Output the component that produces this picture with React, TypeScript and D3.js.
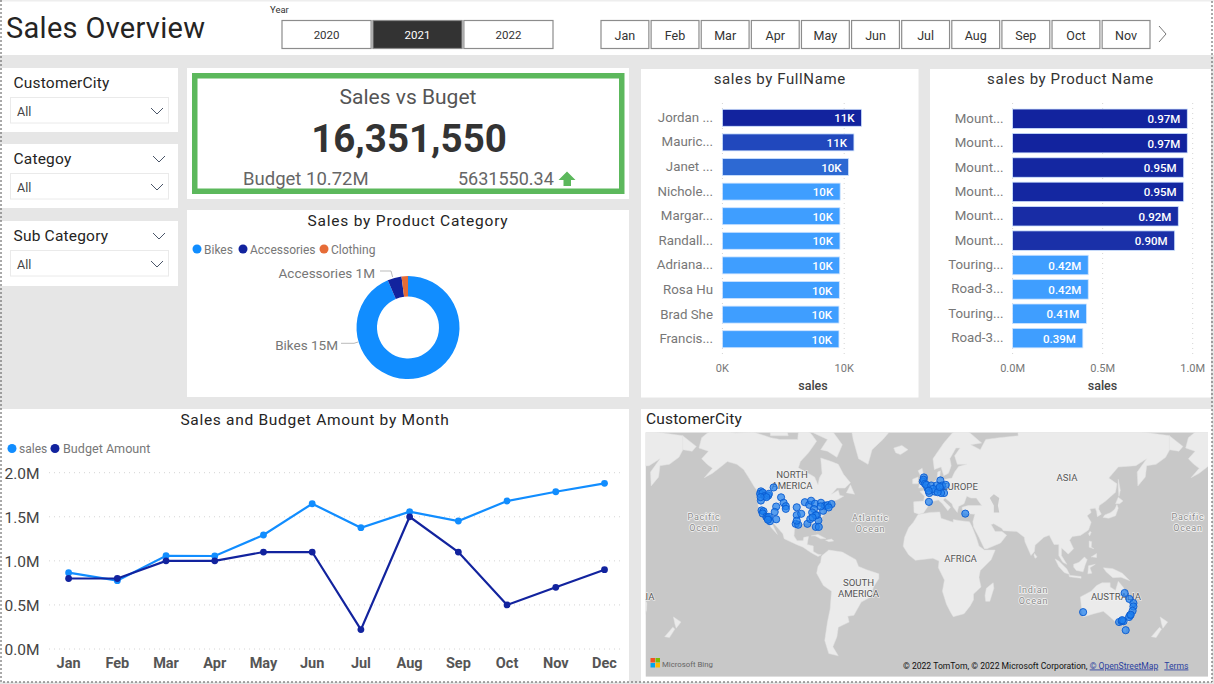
import React from "react";
import * as d3 from "d3";

const FONT = "Roboto, 'Noto Sans', sans-serif";

const years = ["2020", "2021", "2022"];
const sliceMonths = ["Jan", "Feb", "Mar", "Apr", "May", "Jun", "Jul", "Aug", "Sep", "Oct", "Nov"];
const months = [...sliceMonths, "Dec"];

const slicers = ["CustomerCity", "Categoy", "Sub Category"];

const categories = ["Bikes", "Accessories", "Clothing"];
const categorySales = [15.3, 0.72, 0.33];

const fullNames = ["Jordan ...", "Mauric...", "Janet ...", "Nichole...", "Margar...", "Randall...", "Adriana...", "Rosa Hu", "Brad She", "Francis..."];
const fullNameSales = [11.43, 10.8, 10.36, 9.67, 9.65, 9.65, 9.63, 9.6, 9.57, 9.57];
const fullNameLabels = ["11K", "11K", "10K", "10K", "10K", "10K", "10K", "10K", "10K", "10K"];

const productNames = ["Mount...", "Mount...", "Mount...", "Mount...", "Mount...", "Mount...", "Touring...", "Road-3...", "Touring...", "Road-3..."];
const productSales = [0.97, 0.97, 0.95, 0.95, 0.92, 0.9, 0.42, 0.42, 0.41, 0.39];

const monthSales = [0.866, 0.775, 1.058, 1.055, 1.293, 1.648, 1.376, 1.558, 1.452, 1.679, 1.784, 1.879];
const monthBudget = [0.8, 0.8, 1.0, 1.0, 1.1, 1.1, 0.22, 1.5, 1.1, 0.5, 0.7, 0.9];

// lon/lat outlines, rough, only good enough for a small world map
const land: [number, number][][] = [
  [[-166,68.5],[-157,71],[-141,69.7],[-128,70],[-115,68.5],[-108,68],[-95,68],[-94,72],[-85,69.5],[-81,67.5],[-87,64],[-93,61],[-94.5,58.7],[-88,56.7],[-82.5,55],[-80,51.5],[-79,54.5],[-77,56.5],[-78,62.3],[-70,61],[-65,60],[-61,56],[-56,52.5],[-60,50],[-66,50],[-70,47],[-65,49],[-64,46.5],[-61,46],[-66,44],[-70,43.5],[-70,41.7],[-74,40.5],[-76,38],[-76,35],[-81,31.5],[-80,26],[-81,25],[-82.7,28],[-84,30],[-89,30.2],[-94,29.5],[-97.3,27],[-97.7,22],[-95.5,18.7],[-91,18.7],[-90.5,21],[-87,21.5],[-88,16],[-83.5,15],[-83.5,11],[-80,9],[-77.5,8.5],[-80,7.3],[-85,10],[-91,14],[-96,16],[-105,20],[-106,23.5],[-112,29.5],[-114.7,31.5],[-110,23],[-115,28],[-117.3,33],[-121,34.5],[-124,40],[-124.5,43],[-124,48],[-127,50.5],[-131,54.5],[-135,58],[-140,60],[-147,61],[-152,59],[-158,56.5],[-164,54.7],[-158,58.5],[-162,60],[-166,62],[-161,64.5],[-168,65.5]],
  [[-73,78.5],[-60,82],[-30,83.5],[-18,80],[-22,72],[-32,68],[-40,65],[-43,60],[-50,62],[-54,68],[-58,75],[-68,76]],
  [[-80,73.5],[-70,70.5],[-62,66.5],[-66,62.5],[-73,64.5],[-78,65],[-73,68],[-85,70]],
  [[-117,73],[-105,73],[-102,69],[-115,69]],
  [[-95,76],[-80,76],[-78,83],[-60,83],[-90,82]],
  [[-125,72],[-117,75],[-115,72.5],[-122,71]],
  [[-59,47.7],[-53,47],[-56,51.5]],
  [[-85,22],[-80,23],[-74.2,20.2],[-78,20],[-82,22]],
  [[-74.4,19],[-70,19.8],[-68.4,18.5],[-72,18]],
  [[-77,8],[-72,12],[-62,10.5],[-52,5],[-50,0],[-44,-2.5],[-35,-5.5],[-35,-9],[-39,-15],[-41,-22],[-48,-25.5],[-53.5,-34],[-58,-34.5],[-57,-38],[-65,-41],[-66,-46],[-69,-51],[-65,-55],[-72,-54],[-75,-48],[-73,-38],[-71,-30],[-70,-18],[-76,-14],[-81,-5],[-80,0],[-78,3],[-77.5,7]],
  [[-6,35.8],[3,37],[10,37.3],[11,33.5],[20,31],[20,32.7],[25,32],[32,31.3],[34,28],[37,21],[39,15],[43,12],[51,12],[48,5],[40,-3],[39,-8],[40.5,-15],[35,-20],[35,-24],[32.5,-28],[28,-33],[20,-34.8],[18,-32],[15,-27],[12,-18],[13.5,-10],[9,-1],[9.5,4],[5,6],[-4,5],[-8,4.5],[-13,8.5],[-17,14.7],[-16,21],[-13,27.5],[-9.5,31]],
  [[-9,37],[-9.3,43],[-2,43.5],[-1.2,46],[-4.7,48.3],[-1,49],[1.5,50.5],[4,52],[8,54],[8.5,57],[10.5,57.5],[10,54.5],[14,54],[19,54.5],[21,57],[24,59.2],[30,60],[23,60],[21,63],[25,65.5],[22,65.5],[17.5,62],[18.5,59.5],[16.5,56.5],[13,55.5],[11,59],[6,58],[5,62],[13,67],[20,70],[28,71],[41,67],[33,66.5],[40,65],[44,68],[54,68.5],[68,69],[67,73],[75,72.5],[81,73.5],[100,77.5],[113,74],[130,71],[140,72.5],[160,70],[180,69],[180,65],[177,62.5],[170,60],[163,59.5],[162,55],[156.5,51],[156,57],[163,62],[155,59.5],[142,59],[135,54.5],[141,52],[140,48],[132,43],[128,41],[127.5,39],[129.5,36],[126.5,34.5],[126,37.5],[125,39.5],[121,39],[122,37],[119,35],[122,31],[120,26],[114,22.3],[108,21.5],[106,19],[109,13],[105,9],[103,11],[100,13.5],[100,8],[104,1.5],[101,3],[98,8],[98,16],[94.5,16],[91,22.5],[87,21],[80.5,15.5],[80,11],[77.5,8],[73,18],[72.5,21],[67,25],[57,25.5],[56,27],[50,30],[48,29.5],[51,25],[56,25],[59.5,22.5],[55,17],[45,13],[43,13],[39,21],[35,28],[34.5,31.5],[36,36],[30,36.3],[27,37],[26.5,40],[31,41],[41,41],[37,45],[33,45],[30,46],[28,42],[24,40.5],[23,37],[20,40],[19,42],[14,45],[12.5,44],[18,40],[16,38],[12,42],[9,44],[3.5,43],[0,39],[-2,36.7],[-5.5,36]],
  [[-180,69],[-170,66],[-173,64.5],[-180,65]],
  [[-5.5,50],[1.5,51.2],[0,53.5],[-2,56],[-3,58.5],[-6,57.5],[-3,54],[-5,52]],
  [[-10,52],[-6,52],[-6,55],[-10,54]],
  [[-24,65.5],[-18,66.3],[-13.5,65],[-19,63.4],[-22.5,64]],
  [[52,71],[56,73.5],[68,77],[60,76],[53,73]],
  [[49.5,-12],[50,-16],[47,-25],[44,-25],[43.5,-21],[44.5,-16]],
  [[80,9.5],[82,7],[80.5,6],[79.7,8]],
  [[130.8,34],[135,33.5],[140,35],[142,39.5],[141,41.5],[139.5,39],[136.5,37],[132,35.5]],
  [[140,42],[142,45.5],[145.5,43.5],[143,42]],
  [[142,54],[143.5,49],[142.5,46],[142,50]],
  [[121,25],[122,24.5],[120.8,22],[120,23.5]],
  [[120.5,18.5],[122.3,18],[122,14],[124,13],[120.5,14]],
  [[122,7],[126,9.5],[126,6.5],[123,7]],
  [[95.3,5.5],[98,4],[104,-2],[106,-6],[102,-4.5],[98,0]],
  [[105.5,-6.5],[114.5,-7.5],[114.5,-8.7],[106,-7.7]],
  [[109,1.5],[113,3],[117,7],[119,5],[117.5,1],[116,-4],[111,-3],[109,-0.5]],
  [[119.5,-5.5],[120,0.5],[125,1.5],[121,-1],[122.5,-5]],
  [[131,-1],[138,-1.7],[145,-5],[150.5,-10.5],[144,-8],[138,-8.3],[133,-4]],
  [[114,-22],[122,-18],[126,-14],[130,-12],[136,-12],[136,-15],[140,-17.5],[142,-11],[145.5,-15],[149,-21],[153.3,-26],[153,-31],[150,-37.5],[146,-39],[140,-38],[136,-35],[131,-31.5],[124,-33],[116,-35],[115,-31]],
  [[144.8,-41],[148,-41],[147.5,-43.5],[146,-43.5]],
  [[173,-35],[178.5,-38],[175,-41.5],[174,-39]],
  [[172.5,-41],[174,-42],[170,-46.5],[166.5,-46]],
];
const caspian: [number, number][] = [[50,37],[54,37],[53,41],[54,45],[50,47],[47,45],[50,41]];

const cities: [number, number][] = [
  [-112.8,50.3],[-122.2,48.4],[-122.8,47.2],[-120.9,47.8],[-119.5,46],[-116.8,46.3],[-116.3,47.2],[-122.2,43.7],[-118.2,45.5],[-122.4,45.5],
  [-107.3,45.4],[-105.4,42.5],[-103.8,40.6],[-103.8,39.1],[-110.9,40.4],[-112,37.3],[-121.7,38.2],[-120.3,37.7],[-120.9,36.4],[-118.2,34.4],
  [-116.8,33.3],[-115.5,31.7],[-117.5,33.8],[-116.3,34.4],[-117,32.6],[-110.9,32.9],[-95.7,40],[-95.7,35.4],[-92.4,36.2],[-96.5,30],
  [-94.6,29.4],[-95.7,32],[-87.8,30],[-85.7,33],[-89.7,42.8],[-86.5,41.4],[-85.1,43.6],[-82.2,42],[-83,39],[-84.3,37],
  [-80.8,35.3],[-79.7,32.2],[-81.6,28],[-79.4,28],[-77.8,42.5],[-76.2,38],[-74.8,40.9],[-72.9,41.2],[-70,41.8],[-72.1,39.9],[-81.6,35.3],[-78,40.5],[-84,34],
  [-1.7,54.8],[-2.5,53],[-2,53.8],[-0.9,52],[1,50],[0,51.5],[3.7,51.2],[2.3,47.6],[6.4,48.3],[9.1,49.6],[10.5,53.5],[11.8,51.2],[13.2,47.6],[7.7,51.2],[11,47.6],[14.5,51.5],[5,49.6],[1.8,48.7],[8.5,48],[10,50.5],
  [2,43],[28.9,36.3],
  [116,-32],[146.7,-19.3],[150.2,-23.4],[153.2,-26.2],[153.2,-28.4],[152.6,-31.2],[150.7,-34],[150,-35],[151.2,-33.6],[142.6,-38],[144.5,-37.5],[145.9,-37.5],[144.9,-36.9],[147.5,-42.6],
];

const mapLabels = [
  { lines: ["NORTH", "AMERICA"], x: 792, y: 477.5, ocean: false },
  { lines: ["ASIA"], x: 1067, y: 481, ocean: false },
  { lines: ["EUROPE"], x: 960, y: 490, ocean: false },
  { lines: ["AFRICA"], x: 960.6, y: 562, ocean: false },
  { lines: ["SOUTH", "AMERICA"], x: 858.5, y: 585.5, ocean: false },
  { lines: ["AUSTRALIA"], x: 1116, y: 600, ocean: false },
  { lines: ["AUSTRALIA"], x: 629.5, y: 600, ocean: false },
  { lines: ["Pacific", "Ocean"], x: 704, y: 520, ocean: true },
  { lines: ["Pacific", "Ocean"], x: 1188, y: 520, ocean: true },
  { lines: ["Atlantic", "Ocean"], x: 870.6, y: 521, ocean: true },
  { lines: ["Indian", "Ocean"], x: 1033.5, y: 593, ocean: true },
];

const BLUE = "#118dff";
const NAVY = "#12239e";
const ORANGE = "#e66c37";
const GRID = "#d4d4d4";

const T = ({ x, y, size, color = "#333", anchor = "start", weight = 400, children, ...rest }: any) => (
  <text x={x} y={y} fontSize={size} fill={color} textAnchor={anchor} fontWeight={weight} {...rest}>
    {children}
  </text>
);

const Chevron = ({ x, y, color = "#4a5568" }: any) => (
  <polyline points={`${x - 6},${y - 3} ${x},${y + 3} ${x + 6},${y - 3}`} fill="none" stroke={color} strokeWidth={1} />
);

const Slicer = ({ title, y, height, withHeaderChevron }: any) => (
  <g>
    <rect x={0} y={y} width={178} height={height} fill="#fff" />
    <T x={13.5} y={y + 20} size={15.5} color="#252423" letterSpacing={0.2}>{title}</T>
    {withHeaderChevron && <Chevron x={159} y={y + 15} />}
    <rect x={10.5} y={y + 29.5} width={158} height={25.5} fill="#fff" stroke="#eaeaea" />
    <T x={17} y={y + 48} size={12.5} color="#444">All</T>
    <Chevron x={157} y={y + 43} />
  </g>
);

const TopButtons = () => {
  const yearX = d3.scaleBand().domain(years).range([282, 553]).paddingInner(0.02);
  const monthX = d3.scaleBand().domain(sliceMonths).range([601, 1150]).paddingInner(0.045);
  return (
    <g>
      <T x={270} y={13} size={9.5} color="#333">Year</T>
      {years.map((y) => (
        <g key={y}>
          <rect x={yearX(y)} y={20.5} width={yearX.bandwidth()} height={28} fill={y === "2021" ? "#333" : "#fff"} stroke="#8c8c8c" strokeWidth={1.2} />
          <T x={yearX(y)! + yearX.bandwidth() / 2} y={39} size={11.5} anchor="middle" color={y === "2021" ? "#fff" : "#333"}>{y}</T>
        </g>
      ))}
      {sliceMonths.map((m) => (
        <g key={m}>
          <rect x={monthX(m)} y={20.5} width={monthX.bandwidth()} height={28} fill="#fff" stroke="#8c8c8c" strokeWidth={1.2} />
          <T x={monthX(m)! + monthX.bandwidth() / 2} y={39.5} size={12.5} anchor="middle" color="#333">{m}</T>
        </g>
      ))}
      <polyline points="1159,26 1166,34 1159,42" fill="none" stroke="#777" strokeWidth={1} />
    </g>
  );
};

const Kpi = () => (
  <g>
    <rect x={187} y={68} width={442} height={131} fill="#fff" />
    <rect x={194.75} y={75.75} width={427} height={115.5} fill="#fff" stroke="#5cb85c" strokeWidth={5.5} />
    <T x={408} y={104} size={21} anchor="middle" color="#555">Sales vs Buget</T>
    <T x={409} y={152} size={38.5} anchor="middle" color="#333" weight={700}>16,351,550</T>
    <T x={243} y={185} size={18.5} color="#666">Budget 10.72M</T>
    <T x={458} y={185} size={18} color="#666">5631550.34</T>
    <path d="M567 171.5 L575.5 180 L571 180 L571 186 L563.5 186 L563.5 180 L558.5 180 Z" fill="#5cb85c" />
  </g>
);

const Donut = () => {
  const pie = d3.pie<number>().sort(null).startAngle(0).endAngle(Math.PI * 2);
  const arc = d3.arc<d3.PieArcDatum<number>>().innerRadius(31).outerRadius(51.5);
  const colors = d3.scaleOrdinal<string>().domain(categories).range([BLUE, NAVY, ORANGE]);
  const legendX = [197, 243, 324];
  return (
    <g>
      <rect x={187} y={210} width={442} height={187} fill="#fff" />
      <T x={408} y={226} size={15.5} anchor="middle" color="#252423" letterSpacing={0.78}>Sales by Product Category</T>
      {categories.map((c, i) => (
        <g key={c}>
          <circle cx={legendX[i]} cy={249} r={4.5} fill={colors(c)} />
          <T x={legendX[i] + 7} y={253.5} size={12} color="#777">{c}</T>
        </g>
      ))}
      <g transform="translate(408,327.5)">
        {pie(categorySales).map((d, i) => (
          <path key={categories[i]} d={arc(d)!} fill={colors(categories[i])} />
        ))}
      </g>
      <T x={375} y={278} size={13.5} anchor="end" color="#777">Accessories 1M</T>
      <polyline points="380,271 391,271 392.6,277" fill="none" stroke="#bbb" />
      <T x={338} y={350} size={13.5} anchor="end" color="#777">Bikes 15M</T>
      <polyline points="341,343.3 354,343.3 358,342" fill="none" stroke="#bbb" />
    </g>
  );
};

const HBars = ({ panelX, panelW, title, names, values, labels, x, y, color, ticks, tickFmt, labelX, gridTop, axisX }: any) => (
  <g>
    <rect x={panelX} y={69} width={panelW} height={328.5} fill="#fff" />
    <T x={panelX + panelW / 2} y={84} size={15} anchor="middle" color="#333" letterSpacing={0.6}>{title}</T>
    {ticks.map((t: number) => (
      <g key={t}>
        <line x1={x(t)} x2={x(t)} y1={gridTop} y2={357} stroke={GRID} strokeDasharray="1,4" />
        <T x={x(t)} y={372} size={11} anchor="middle" color="#777">{tickFmt(t)}</T>
      </g>
    ))}
    {values.map((v: number, i: number) => (
      <g key={i}>
        <rect x={x(0)} y={y(i)} width={x(v) - x(0)} height={y.bandwidth()} fill={color(v)} stroke="#cfe4ff" strokeWidth={0.8} />
        <T x={x(v) - 7} y={y(i)! + y.bandwidth() / 2 + 4.5} size={11.5} anchor="end" color="#fff" weight={500}>{labels[i]}</T>
        <T x={labelX} y={y(i)! + y.bandwidth() / 2 + 4} size={13.3} anchor="end" color="#777">{names[i]}</T>
      </g>
    ))}
    <T x={axisX} y={390} size={12.5} anchor="middle" color="#444" weight={500}>sales</T>
  </g>
);

const FullNameBars = () => {
  const x = d3.scaleLinear().domain([0, 10]).range([722.4, 844.2]);
  const y = d3.scaleBand<number>().domain(d3.range(fullNames.length)).range([105.5, 351.5]).paddingInner(0.31).paddingOuter(0.155);
  const color = d3.scaleLinear<string>().domain([9.7, 10.36, 10.8, 11.43]).range(["#3f9eff", "#2d69d3", "#2148bd", NAVY]).clamp(true);
  return (
    <HBars panelX={641} panelW={277.5} title="sales by FullName" names={fullNames} values={fullNameSales} labels={fullNameLabels}
      x={x} y={y} color={color} ticks={[0, 10]} tickFmt={(t: number) => `${t}K`} labelX={713} gridTop={103} axisX={813} />
  );
};

const ProductBars = () => {
  const x = d3.scaleLinear().domain([0, 1]).range([1012.6, 1192.7]);
  const y = d3.scaleBand<number>().domain(d3.range(productNames.length)).range([106.6, 350.3]).paddingInner(0.2).paddingOuter(0.1);
  const color = d3.scaleLinear<string>().domain([0.43, 0.44, 0.9, 0.97]).range(["#3f9eff", "#1a30a8", "#1a30a8", NAVY]).clamp(true);
  return (
    <HBars panelX={930} panelW={281} title="sales by Product Name" names={productNames} values={productSales}
      labels={productSales.map((v) => `${v.toFixed(2)}M`)}
      x={x} y={y} color={color} ticks={[0, 0.5, 1]} tickFmt={(t: number) => `${t.toFixed(1)}M`} labelX={1003.5} gridTop={103} axisX={1102.5} />
  );
};

const LineChart = () => {
  const x = d3.scalePoint().domain(months).range([68.6, 604.5]);
  const y = d3.scaleLinear().domain([0, 2]).range([649, 472.7]);
  const line = d3.line<number>().x((_, i) => x(months[i])!).y((d) => y(d));
  const series = [
    { name: "sales", values: monthSales, color: BLUE },
    { name: "Budget Amount", values: monthBudget, color: NAVY },
  ];
  return (
    <g>
      <rect x={0} y={409} width={629} height={273} fill="#fff" />
      <T x={315} y={424.5} size={15.5} anchor="middle" color="#252423" letterSpacing={0.7}>Sales and Budget Amount by Month</T>
      <circle cx={12} cy={448.5} r={4.5} fill={BLUE} />
      <T x={19} y={453} size={12} color="#777">sales</T>
      <circle cx={55} cy={448.5} r={4.5} fill={NAVY} />
      <T x={63} y={453} size={12.6} color="#777">Budget Amount</T>
      {y.ticks(4).map((t) => (
        <g key={t}>
          <line x1={49} x2={624} y1={y(t)} y2={y(t)} stroke={GRID} strokeDasharray="1,4" />
          <T x={39.5} y={y(t) + 6} size={15.5} anchor="end" color="#444">{`${t.toFixed(1)}M`}</T>
        </g>
      ))}
      {months.map((m) => (
        <T key={m} x={x(m)} y={668} size={14.5} anchor="middle" color="#555" weight={700}>{m}</T>
      ))}
      {series.map((s) => (
        <g key={s.name}>
          <path d={line(s.values)!} fill="none" stroke={s.color} strokeWidth={2.2} />
          {s.values.map((v, i) => (
            <circle key={i} cx={x(months[i])} cy={y(v)} r={3.4} fill={s.color} />
          ))}
        </g>
      ))}
    </g>
  );
};

const WORLD = 486.7;

const MapPanel = () => {
  const projection = d3.geoMercator().scale(77.5).translate([926.2, 566.4]);
  // plain planar transform, the outlines are not wound for spherical geoPath
  const flat = d3.geoTransform({
    point(lon, lat) {
      const p = projection([lon, lat])!;
      this.stream.point(p[0], p[1]);
    },
  });
  const path = d3.geoPath(flat);
  const toPoly = (ring: [number, number][]) => ({ type: "Polygon", coordinates: [[...ring, ring[0]]] }) as any;
  return (
    <g>
      <rect x={641} y={409} width={571} height={273} fill="#fff" />
      <T x={646} y={424} size={15.5} color="#252423" letterSpacing={0.2}>CustomerCity</T>
      <clipPath id="map-clip">
        <rect x={645.5} y={432.3} width={562.5} height={244.5} />
      </clipPath>
      <g clipPath="url(#map-clip)">
        <rect x={645.5} y={432.3} width={562.5} height={244.5} fill="#c8c8c8" />
        {[-WORLD, 0, WORLD].map((dx) => (
          <g key={dx} transform={`translate(${dx},0)`}>
            {land.map((ring, i) => (
              <path key={i} d={path(toPoly(ring))!} fill="#ebebeb" stroke="#e2e2e2" strokeWidth={0.5} strokeLinejoin="round" />
            ))}
            <path d={path(toPoly(caspian))!} fill="#c8c8c8" />
          </g>
        ))}
        {mapLabels.map((l, i) => (
          <text key={i} textAnchor="middle" fontSize={l.ocean ? 9 : 9.6} fill={l.ocean ? "#8a8a8a" : "#555"}
            letterSpacing={l.ocean ? 0.8 : 0} stroke="#f4f4f4" strokeWidth={l.ocean ? 1.5 : 1.2} paintOrder="stroke">
            {l.lines.map((t, j) => (
              <tspan key={j} x={l.x} y={l.y + j * 11.4}>{t}</tspan>
            ))}
          </text>
        ))}
        {cities.map((c, i) => {
          const p = projection(c)!;
          return <circle key={i} cx={p[0]} cy={p[1]} r={3.6} fill="#1f7fef" fillOpacity={0.72} stroke="#0a5bd0" strokeWidth={0.9} />;
        })}
      </g>
      <g>
        <rect x={650.5} y={658} width={4.5} height={4.5} fill="#f25022" />
        <rect x={655.5} y={658} width={4.5} height={4.5} fill="#7fba00" />
        <rect x={650.5} y={663} width={4.5} height={4.5} fill="#00a4ef" />
        <rect x={655.5} y={663} width={4.5} height={4.5} fill="#ffb900" />
        <T x={662} y={666.5} size={7.8} color="#666">Microsoft Bing</T>
      </g>
      <text x={903} y={668.5} fontSize={8.6} fill="#111">
        © 2022 TomTom, © 2022 Microsoft Corporation,{" "}
        <tspan fill="#2a3f9e" textDecoration="underline">© OpenStreetMap</tspan>
        <tspan dx={6} fill="#2a3f9e" textDecoration="underline">Terms</tspan>
      </text>
    </g>
  );
};

export default function App() {
  return (
    <svg width={1214} height={684} style={{ position: "fixed", left: 0, top: 0, display: "block" }} fontFamily={FONT}>
      <rect width={1214} height={684} fill="#e6e6e6" />
      <rect width={1214} height={55} fill="#fff" />
      <rect width={1214} height={1.5} fill="#eee" />
      <T x={6} y={38} size={29} color="#252423" letterSpacing={0.3}>Sales Overview</T>
      <TopButtons />
      <Slicer title={slicers[0]} y={68} height={64} />
      <Slicer title={slicers[1]} y={144} height={64} withHeaderChevron />
      <Slicer title={slicers[2]} y={221} height={65} withHeaderChevron />
      <Kpi />
      <Donut />
      <FullNameBars />
      <ProductBars />
      <LineChart />
      <MapPanel />
      <polyline points="1,0 1,682 1212,682 1212,0" fill="none" stroke="#555" strokeDasharray="2,2" />
    </svg>
  );
}
